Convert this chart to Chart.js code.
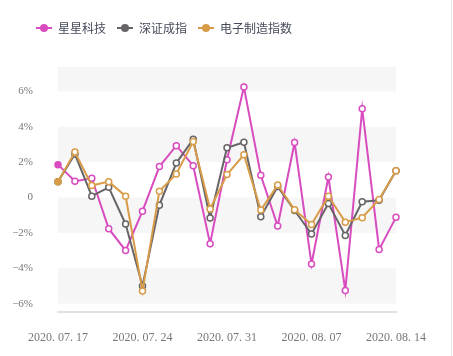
<!DOCTYPE html>
<html lang="zh">
<head>
<meta charset="UTF-8">
<title>星星科技 / 深证成指 / 电子制造指数</title>
<style>
    body { margin: 0; background: #fff; }
    .box { width: 451px; height: 356px; border-right: 1px solid #e4e4e4; }
    canvas { display: block; }
</style>
</head>
<body>
<div class="box"><canvas id="myChart" width="451" height="356"></canvas></div>

<script src="https://cdn.jsdelivr.net/npm/chart.js"></script>
<script>
    // trading days
    const dates = ['2020. 07. 17', '2020. 07. 20', '2020. 07. 21', '2020. 07. 22', '2020. 07. 23',
        '2020. 07. 24', '2020. 07. 27', '2020. 07. 28', '2020. 07. 29', '2020. 07. 30',
        '2020. 07. 31', '2020. 08. 03', '2020. 08. 04', '2020. 08. 05', '2020. 08. 06',
        '2020. 08. 07', '2020. 08. 10', '2020. 08. 11', '2020. 08. 12', '2020. 08. 13', '2020. 08. 14'];

    // daily change, %
    const xingxing = [1.86, 0.92, 1.09, -1.76, -2.99, -0.77, 1.75, 2.93, 1.80, -2.61, 2.14,
        6.25, 1.26, -1.61, 3.11, -3.76, 1.16, -5.25, 5.02, -2.93, -1.12];
    const shenzheng = [0.90, 2.46, 0.08, 0.58, -1.50, -5.00, -0.43, 1.95, 3.30, -1.16, 2.81,
        3.13, -1.09, 0.62, -0.73, -2.06, -0.34, -2.14, -0.24, -0.15, 1.52];
    const dianzi = [0.90, 2.57, 0.68, 0.90, 0.08, -5.28, 0.36, 1.33, 3.17, -0.65, 1.30,
        2.42, -0.71, 0.71, -0.69, -1.52, 0.08, -1.39, -1.14, -0.11, 1.52];

    const yTicks = [-6, -4, -2, 0, 2, 4, 6];

    const pink = '#d84cbf';
    const grey = '#676467';
    const orange = '#d89c48';

    function legendIcon(color) {
        const c = document.createElement('canvas');
        c.width = 16; c.height = 10;
        const g = c.getContext('2d');
        g.strokeStyle = color; g.lineWidth = 2;
        g.beginPath(); g.moveTo(0, 5); g.lineTo(16, 5); g.stroke();
        g.fillStyle = color;
        g.beginPath(); g.arc(8, 5, 4, 0, Math.PI * 2); g.fill();
        return c;
    }
    const icons = [legendIcon(pink), legendIcon(grey), legendIcon(orange)];

    // first point filled, the rest hollow
    const fills = (arr, c) => arr.map((_, i) => i === 0 ? c : '#fff');

    // alternating grey bands between the y ticks
    const bands = {
        id: 'bands',
        beforeDraw(chart) {
            const { ctx, chartArea: a, scales: { y } } = chart;
            const edges = [y.min, ...yTicks, y.max];
            ctx.save();
            ctx.fillStyle = '#f6f6f6';
            for (let i = 1; i < edges.length - 1; i += 2) {
                const top = y.getPixelForValue(edges[i + 1]);
                const bot = y.getPixelForValue(edges[i]);
                ctx.fillRect(a.left, top, a.right - a.left, bot - top);
            }
            ctx.restore();
        }
    };

    // legend: fixed height, pushed right a bit
    const legendGap = {
        id: 'legendGap',
        beforeInit(chart) {
            const fit = chart.legend.fit;
            chart.legend.fit = function () {
                fit.call(this);
                this.height = 56;
            };
        },
        afterLayout(chart) {
            chart.legend.left += 25;
            chart.legend.right += 25;
        }
    };

    new Chart(document.getElementById('myChart'), {
        type: 'line',
        data: {
            labels: dates,
            datasets: [
                {
                    label: '星星科技', data: xingxing,
                    borderColor: pink, backgroundColor: pink,
                    pointBackgroundColor: fills(xingxing, pink),
                    order: 3
                },
                {
                    label: '深证成指', data: shenzheng,
                    borderColor: grey, backgroundColor: grey,
                    pointBackgroundColor: fills(shenzheng, grey),
                    order: 2
                },
                {
                    label: '电子制造指数', data: dianzi,
                    borderColor: orange, backgroundColor: orange,
                    pointBackgroundColor: fills(dianzi, orange),
                    order: 1
                }
            ]
        },
        options: {
            responsive: false,
            animation: false,
            events: [],
            layout: { padding: { top: 11, left: 0, right: 55, bottom: 10 } },
            elements: {
                line: { borderWidth: 2, tension: 0 },
                point: { radius: 3, borderWidth: 1.5 }
            },
            plugins: {
                tooltip: { enabled: false },
                legend: {
                    align: 'start',
                    labels: {
                        usePointStyle: true,
                        pointStyleWidth: 16,
                        padding: 11,
                        color: '#464c5a',
                        font: { size: 12, family: '"Noto Sans CJK SC", sans-serif' },
                        sort: (a, b) => a.datasetIndex - b.datasetIndex,
                        generateLabels(chart) {
                            const items = Chart.defaults.plugins.legend.labels.generateLabels(chart);
                            items.forEach(it => { it.pointStyle = icons[it.datasetIndex]; });
                            return items;
                        }
                    }
                }
            },
            scales: {
                x: {
                    offset: false,
                    afterFit: axis => { axis.height = 34; },
                    grid: { display: false, drawTicks: false },
                    border: { color: '#e2e2e2', width: 2 },
                    ticks: {
                        autoSkip: false, maxRotation: 0, padding: 19,
                        color: '#777', font: { size: 12, family: '"Liberation Serif", serif' },
                        callback: (v, i) => i % 5 === 0 ? dates[i] : null
                    }
                },
                y: {
                    min: -6.47, max: 7.38,
                    afterBuildTicks: axis => { axis.ticks = yTicks.map(v => ({ value: v })); },
                    afterFit: axis => { axis.width = 58; },
                    grid: { display: false, drawTicks: false },
                    border: { display: false },
                    ticks: {
                        padding: 25, color: '#777',
                        font: { size: 11, family: '"Liberation Serif", serif' },
                        callback: v => v === 0 ? '0' : (v < 0 ? '\u2212' + (-v) : v) + '%'
                    }
                }
            }
        },
        plugins: [bands, legendGap]
    });
</script>
</body>
</html>
